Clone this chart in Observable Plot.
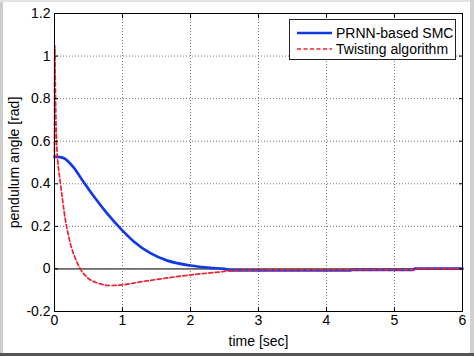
<!DOCTYPE html>
<html><head><meta charset="utf-8">
<script src="https://cdn.jsdelivr.net/npm/d3@7"></script>
<script src="https://cdn.jsdelivr.net/npm/@observablehq/plot@0.6"></script>
<style>
body{margin:0;background:#fff;}
#wrap{position:relative;width:474px;height:356px;overflow:hidden;font-family:"Liberation Sans",Arial,Helvetica,sans-serif;background:#fff;}
.edge{position:absolute;}
#legend{position:absolute;left:289px;top:19px;width:165px;height:39px;border:1px solid #222;background:#fff;font-size:14px;color:#000;}
#legend .row{position:absolute;left:0;height:16px;display:flex;align-items:center;}
#legend svg{margin-left:7px;margin-right:4px;}
</style></head><body><div id="wrap"></div>
<script>
// Data
const prnnTime  = [0, 0.07, 0.14, 0.28, 0.43, 0.58, 0.77, 1.0, 1.17, 1.41, 1.66, 2.0, 2.29, 2.5, 2.6, 4.35, 4.37, 5.28, 5.3, 6];
const prnnAngle = [0.528, 0.526, 0.52, 0.477, 0.407, 0.34, 0.262, 0.18, 0.128, 0.074, 0.039, 0.016, 0.005, 0.0, -0.007, -0.007, -0.004, -0.004, 0.001, 0.001];
const twistTime  = [0, 0.004, 0.015, 0.03, 0.05, 0.08, 0.12, 0.16, 0.2, 0.25, 0.3, 0.38, 0.5, 0.63, 0.82, 1.02, 1.26, 1.56, 1.85, 2.15, 2.44, 2.6, 3.0, 5.3, 5.32, 6];
const twistAngle = [0.52, 1.05, 0.8, 0.6, 0.5, 0.42, 0.32, 0.23, 0.165, 0.1, 0.055, 0, -0.045, -0.066, -0.078, -0.074, -0.061, -0.047, -0.034, -0.023, -0.014, -0.008, -0.005, -0.004, 0.001, 0.001];
const seriesNames = ["PRNN-based SMC", "Twisting algorithm"];
const seriesColors = ["#1238e8", "#ee2030"];
const xTicks = [0, 1, 2, 3, 4, 5, 6];
const xTickLabels = ["0", "1", "2", "3", "4", "5", "6"];
const yTicks = [-0.2, 0, 0.2, 0.4, 0.6, 0.8, 1, 1.2];
const yTickLabels = ["-0.2", "0", "0.2", "0.4", "0.6", "0.8", "1", "1.2"];
const xLabel = "time [sec]";
const yLabel = "pendulum angle [rad]";

const prnn = prnnTime.map((t, i) => ({t, a: prnnAngle[i]}));
const twist = twistTime.map((t, i) => ({t, a: twistAngle[i]}));
const font = '"Liberation Sans", Arial, Helvetica, sans-serif';
const fs = 14;

const chart = Plot.plot({
  width: 474, height: 356,
  marginLeft: 54, marginRight: 12, marginTop: 13, marginBottom: 45,
  style: {fontFamily: font, fontSize: fs + "px", background: "transparent", color: "#000"},
  x: {domain: [0, 6]},
  y: {domain: [-0.2, 1.2]},
  marks: [
    Plot.gridX(xTicks, {stroke: "#777", strokeOpacity: 1, strokeDasharray: "1,2"}),
    Plot.gridY(yTicks, {stroke: "#777", strokeOpacity: 1, strokeDasharray: "1,2"}),
    Plot.ruleY([0], {stroke: "#6a6a6a", strokeWidth: 1.8}),
    Plot.line(prnn, {x: "t", y: "a", stroke: seriesColors[0], strokeWidth: 2.7, curve: "monotone-x"}),
    Plot.line(twist, {x: "t", y: "a", stroke: seriesColors[1], strokeWidth: 1.7, strokeDasharray: "4,2.5", curve: "monotone-x"}),
    Plot.frame({stroke: "#000", strokeWidth: 1}),
    Plot.axisX(xTicks, {anchor: "bottom", tickSize: -4, tickPadding: 8, tickFormat: (d, i) => xTickLabels[i], label: null, fontSize: fs}),
    Plot.axisX(xTicks, {anchor: "top", tickSize: -4, tickFormat: () => "", label: null}),
    Plot.axisY(yTicks, {anchor: "left", tickSize: -4, tickPadding: 8, tickFormat: (d, i) => yTickLabels[i], label: null, fontSize: fs}),
    Plot.axisY(yTicks, {anchor: "right", tickSize: -4, tickFormat: () => "", label: null}),
    Plot.text([xLabel], {frameAnchor: "bottom", dy: 30, lineAnchor: "middle", fontSize: fs}),
    Plot.text([yLabel], {frameAnchor: "left", dx: -40, rotate: -90, textAnchor: "middle", fontSize: fs})
  ]
});
const wrap = document.getElementById("wrap");
wrap.appendChild(chart);

// legend
const leg = document.createElement("div");
leg.id = "legend";
seriesNames.forEach((name, i) => {
  const row = document.createElement("div");
  row.className = "row";
  row.style.top = (i === 0 ? 5 : 21) + "px";
  const dash = i === 1 ? 'stroke-dasharray="4,2.5"' : "";
  const sw = i === 0 ? 2.7 : 1.7;
  row.innerHTML = `<svg width="35" height="6"><line x1="0" y1="3" x2="35" y2="3" stroke="${seriesColors[i]}" stroke-width="${sw}" ${dash}/></svg><span>${name}</span>`;
  leg.appendChild(row);
});
wrap.appendChild(leg);

// outer image border
[["left:0;top:0;width:3px;height:356px;background:#cdcdcd"],
 ["left:0;top:0;width:474px;height:2px;background:#e2e2e2"],
 ["right:0;top:0;width:4px;height:356px;background:#d0d0d0"],
 ["left:0;bottom:0;width:474px;height:3px;background:#555"]].forEach(([s]) => {
  const e = document.createElement("div");
  e.className = "edge";
  e.style.cssText = s;
  wrap.appendChild(e);
});
</script>
</body></html>
